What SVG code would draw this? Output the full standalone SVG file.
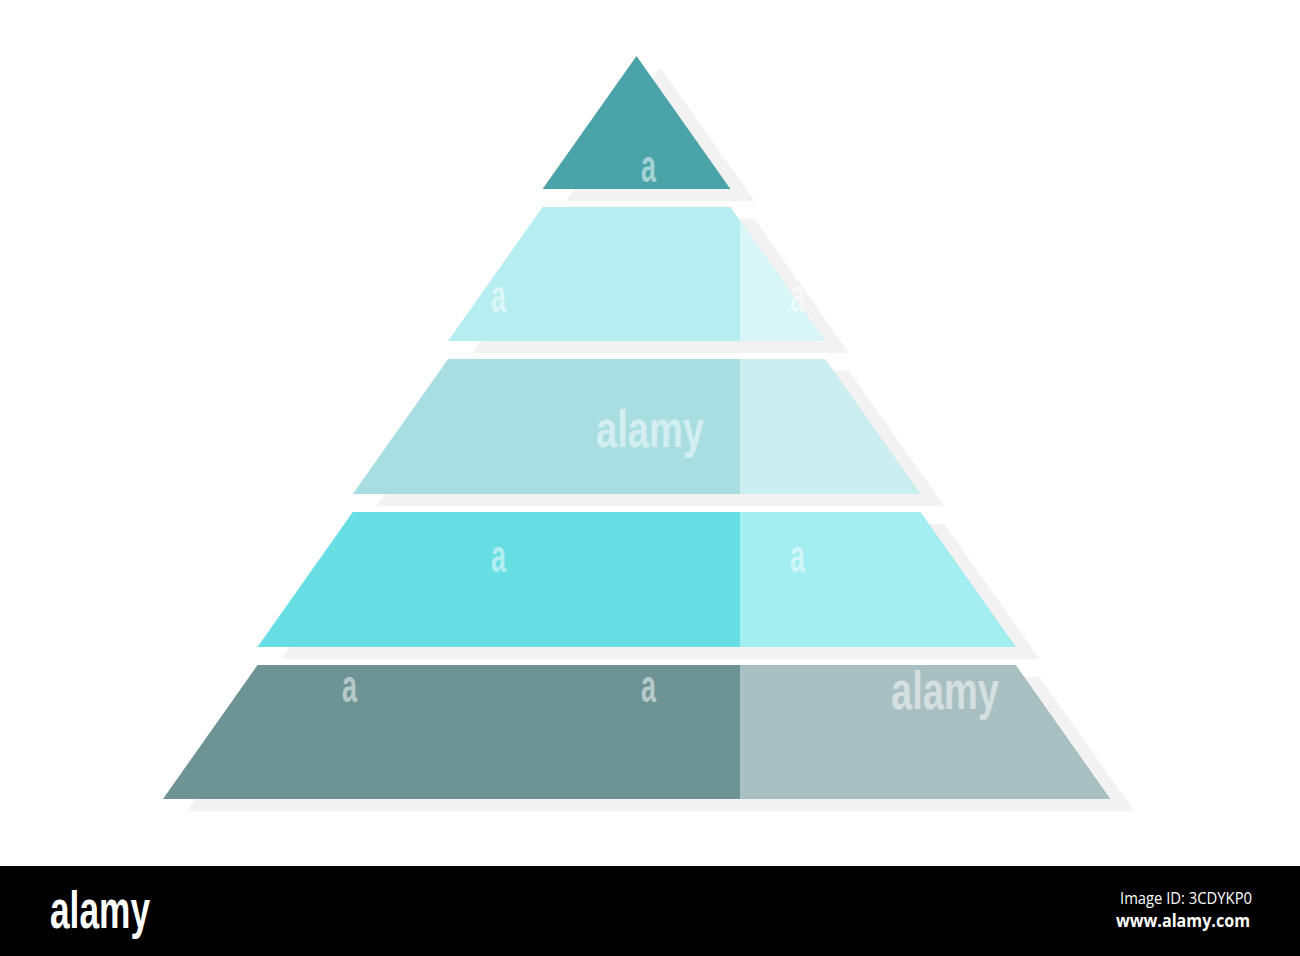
<svg xmlns="http://www.w3.org/2000/svg" width="1300" height="956" viewBox="0 0 1300 956">
<style>
.shadow{fill:#f2f2f2}
.wm{fill:#ffffff;fill-opacity:0.5;font-family:"Liberation Sans",Arial,sans-serif;font-weight:bold}
.foot1{fill:#ffffff;font-family:"Open Sans","Noto Sans",sans-serif;font-size:16px}
.foot2{fill:#ffffff;font-family:"Open Sans","Noto Sans",sans-serif;font-size:18px;font-weight:bold}
</style>
<rect x="0" y="0" width="1300" height="956" fill="#ffffff"/>
<g id="shadows" transform="translate(24,12)">
<polygon class="shadow" points="636.5,56 730.4,189 542.6,189"/>
<polygon class="shadow" points="542.6,207 730.4,207 824.9,341 448.1,341"/>
<polygon class="shadow" points="448.1,359 824.9,359 920.2,494 352.8,494"/>
<polygon class="shadow" points="352.8,512 920.2,512 1015.5,647 257.5,647"/>
<polygon class="shadow" points="257.5,665 1015.5,665 1110,799 163,799"/>
</g>
<g id="level1">
<polygon points="636.5,56 730.4,189 542.6,189" fill="#4aa3a8"/>
</g>
<g id="level2">
<polygon points="542.6,207 730.4,207 824.9,341 448.1,341" fill="#b5edf0"/>
<polygon points="740,220.6 824.9,341 740,341" fill="#d8f5f7"/>
</g>
<g id="level3">
<polygon points="448.1,359 824.9,359 920.2,494 352.8,494" fill="#a8dee2"/>
<polygon points="740,359 824.9,359 920.2,494 740,494" fill="#cbeef0"/>
</g>
<g id="level4">
<polygon points="352.8,512 920.2,512 1015.5,647 257.5,647" fill="#67dee4"/>
<polygon points="740,512 920.2,512 1015.5,647 740,647" fill="#a2eef1"/>
</g>
<g id="level5">
<polygon points="257.5,665 1015.5,665 1110,799 163,799" fill="#6e9394"/>
<polygon points="740,665 1015.5,665 1110,799 740,799" fill="#a9c0c2"/>
</g>
<g id="watermarks">
<text class="wm" x="641" y="182" font-size="46" textLength="15" lengthAdjust="spacingAndGlyphs">a</text>
<text class="wm" x="491" y="312" font-size="46" textLength="15" lengthAdjust="spacingAndGlyphs">a</text>
<text class="wm" x="790" y="312" font-size="46" textLength="15" lengthAdjust="spacingAndGlyphs">a</text>
<text class="wm" x="596" y="447" font-size="52" textLength="108" lengthAdjust="spacingAndGlyphs">alamy</text>
<text class="wm" x="491" y="572" font-size="46" textLength="15" lengthAdjust="spacingAndGlyphs">a</text>
<text class="wm" x="790" y="572" font-size="46" textLength="15" lengthAdjust="spacingAndGlyphs">a</text>
<text class="wm" x="342" y="702" font-size="46" textLength="15" lengthAdjust="spacingAndGlyphs">a</text>
<text class="wm" x="641" y="702" font-size="46" textLength="15" lengthAdjust="spacingAndGlyphs">a</text>
<text class="wm" x="891" y="709" font-size="54" textLength="108" lengthAdjust="spacingAndGlyphs">alamy</text>
</g>
<g id="footer">
<rect x="0" y="866" width="1300" height="90" fill="#000000"/>
<text x="50" y="928" fill="#ffffff" font-family="Liberation Sans,Arial,sans-serif" font-weight="bold" font-size="51" textLength="100" lengthAdjust="spacingAndGlyphs">alamy</text>
<text class="foot1" x="1120" y="904" textLength="132" lengthAdjust="spacingAndGlyphs">Image ID: 3CDYKP0</text>
<text class="foot2" x="1116" y="927" textLength="134" lengthAdjust="spacingAndGlyphs">www.alamy.com</text>
</g>
</svg>
